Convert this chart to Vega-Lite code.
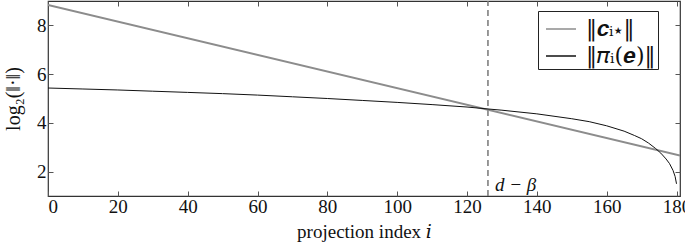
{
  "$schema": "https://vega.github.io/schema/vega-lite/v6.json",
  "autosize": "none",
  "width": 632,
  "height": 195,
  "padding": {"left": 48, "top": 1, "right": 5, "bottom": 49},
  "background": "white",
  "config": {
    "view": {"stroke": "#333", "strokeWidth": 1.2},
    "font": "Liberation Serif, DejaVu Serif",
    "axis": {"grid": false, "domain": false, "tickSize": -5, "tickColor": "#555", "labelFont": "Liberation Serif, DejaVu Serif", "labelFontSize": 19, "labelColor": "#111", "titleFont": "Liberation Serif, DejaVu Serif", "titleFontSize": 19, "titleFontWeight": "normal", "titleColor": "#111"}
  },
  "datasets": {
    "curves": [
      {"i": 0, "v": 8.84, "s": "‖𝒄ᵢ⋆‖"},
      {"i": 181, "v": 2.66, "s": "‖𝒄ᵢ⋆‖"},
      {"i": 0, "v": 5.43, "s": "‖𝜋ᵢ(𝒆)‖"},
      {"i": 10, "v": 5.39, "s": "‖𝜋ᵢ(𝒆)‖"},
      {"i": 20, "v": 5.35, "s": "‖𝜋ᵢ(𝒆)‖"},
      {"i": 30, "v": 5.3, "s": "‖𝜋ᵢ(𝒆)‖"},
      {"i": 40, "v": 5.25, "s": "‖𝜋ᵢ(𝒆)‖"},
      {"i": 50, "v": 5.2, "s": "‖𝜋ᵢ(𝒆)‖"},
      {"i": 60, "v": 5.14, "s": "‖𝜋ᵢ(𝒆)‖"},
      {"i": 70, "v": 5.07, "s": "‖𝜋ᵢ(𝒆)‖"},
      {"i": 80, "v": 5.0, "s": "‖𝜋ᵢ(𝒆)‖"},
      {"i": 90, "v": 4.92, "s": "‖𝜋ᵢ(𝒆)‖"},
      {"i": 100, "v": 4.84, "s": "‖𝜋ᵢ(𝒆)‖"},
      {"i": 110, "v": 4.75, "s": "‖𝜋ᵢ(𝒆)‖"},
      {"i": 120, "v": 4.65, "s": "‖𝜋ᵢ(𝒆)‖"},
      {"i": 126, "v": 4.57, "s": "‖𝜋ᵢ(𝒆)‖"},
      {"i": 130, "v": 4.52, "s": "‖𝜋ᵢ(𝒆)‖"},
      {"i": 140, "v": 4.37, "s": "‖𝜋ᵢ(𝒆)‖"},
      {"i": 150, "v": 4.17, "s": "‖𝜋ᵢ(𝒆)‖"},
      {"i": 155, "v": 4.05, "s": "‖𝜋ᵢ(𝒆)‖"},
      {"i": 160, "v": 3.88, "s": "‖𝜋ᵢ(𝒆)‖"},
      {"i": 165, "v": 3.66, "s": "‖𝜋ᵢ(𝒆)‖"},
      {"i": 168, "v": 3.48, "s": "‖𝜋ᵢ(𝒆)‖"},
      {"i": 170, "v": 3.35, "s": "‖𝜋ᵢ(𝒆)‖"},
      {"i": 172, "v": 3.17, "s": "‖𝜋ᵢ(𝒆)‖"},
      {"i": 174, "v": 2.95, "s": "‖𝜋ᵢ(𝒆)‖"},
      {"i": 175.5, "v": 2.76, "s": "‖𝜋ᵢ(𝒆)‖"},
      {"i": 177, "v": 2.52, "s": "‖𝜋ᵢ(𝒆)‖"},
      {"i": 178, "v": 2.33, "s": "‖𝜋ᵢ(𝒆)‖"},
      {"i": 179, "v": 2.05, "s": "‖𝜋ᵢ(𝒆)‖"},
      {"i": 179.6, "v": 1.8, "s": "‖𝜋ᵢ(𝒆)‖"},
      {"i": 180, "v": 1.5, "s": "‖𝜋ᵢ(𝒆)‖"}
    ],
    "marker": [{"i": 126, "label": "d − β", "ly": 1.45, "lx": 128}]
  },
  "layer": [
    {
      "data": {"name": "marker"},
      "mark": {"type": "rule", "color": "#777", "strokeDash": [6, 4], "strokeWidth": 1.5},
      "encoding": {
        "x": {"field": "i", "type": "quantitative", "scale": {"domain": [0, 181], "nice": false, "zero": false},
              "axis": {"orient": "bottom", "values": [0, 20, 40, 60, 80, 100, 120, 140, 160, 180], "title": "projection index 𝑖", "titlePadding": 6, "labelPadding": 6}},
        "y": {"datum": 1, "scale": {"domain": [1, 9], "nice": false, "zero": false}, "axis": null},
        "y2": {"datum": 9}
      }
    },
    {
      "data": {"name": "curves"},
      "transform": [{"filter": "datum.s == '‖𝒄ᵢ⋆‖'"}],
      "mark": {"type": "line", "clip": true, "strokeWidth": 2},
      "encoding": {
        "x": {"field": "i", "type": "quantitative", "scale": {"domain": [0, 181], "nice": false},
              "axis": {"orient": "top", "values": [0, 20, 40, 60, 80, 100, 120, 140, 160, 180], "labels": false, "title": null}},
        "y": {"field": "v", "type": "quantitative", "scale": {"domain": [1, 9], "nice": false, "zero": false},
              "axis": {"orient": "left", "values": [2, 4, 6, 8], "title": "log₂(‖·‖)", "titleFontSize": 20, "titlePadding": 13, "labelPadding": 7}},
        "color": {"field": "s", "type": "nominal", "sort": ["‖𝒄ᵢ⋆‖", "‖𝜋ᵢ(𝒆)‖"],
                  "scale": {"domain": ["‖𝒄ᵢ⋆‖", "‖𝜋ᵢ(𝒆)‖"], "range": ["#8c8c8c", "#111111"]},
                  "legend": {"title": null, "orient": "none", "legendX": 490, "legendY": 10, "strokeColor": "#222", "fillColor": "white", "padding": 2, "symbolOffset": 5, "symbolType": "stroke", "symbolSize": 900, "symbolStrokeWidth": 1.5, "labelFont": "DejaVu Serif", "labelFontSize": 22, "labelColor": "#111", "rowPadding": -6, "cornerRadius": 0, "labelOffset": 9, "labelExpr": "datum.label + '  '"}}
      }
    },
    {
      "data": {"name": "curves"},
      "transform": [{"filter": "datum.s != '‖𝒄ᵢ⋆‖'"}],
      "mark": {"type": "line", "clip": true, "strokeWidth": 1},
      "encoding": {
        "x": {"field": "i", "type": "quantitative", "scale": {"domain": [0, 181], "nice": false}, "axis": null},
        "y": {"field": "v", "type": "quantitative", "scale": {"domain": [1, 9], "nice": false, "zero": false}, "axis": null},
        "color": {"field": "s", "type": "nominal", "sort": ["‖𝒄ᵢ⋆‖", "‖𝜋ᵢ(𝒆)‖"],
                  "scale": {"domain": ["‖𝒄ᵢ⋆‖", "‖𝜋ᵢ(𝒆)‖"], "range": ["#8c8c8c", "#111111"]}}
      }
    },
    {
      "data": {"name": "marker"},
      "mark": {"type": "text", "align": "left", "baseline": "middle", "fontSize": 19, "fontStyle": "italic", "font": "Liberation Serif, DejaVu Serif", "color": "#111"},
      "encoding": {
        "x": {"field": "lx", "type": "quantitative", "scale": {"domain": [0, 181], "nice": false}, "axis": null},
        "y": {"field": "ly", "type": "quantitative", "scale": {"domain": [1, 9], "nice": false, "zero": false}, "axis": {"orient": "right", "values": [2, 4, 6, 8], "labels": false, "title": null}},
        "text": {"field": "label"}
      }
    }
  ],
  "resolve": {"axis": {"x": "independent", "y": "independent"}}
}
